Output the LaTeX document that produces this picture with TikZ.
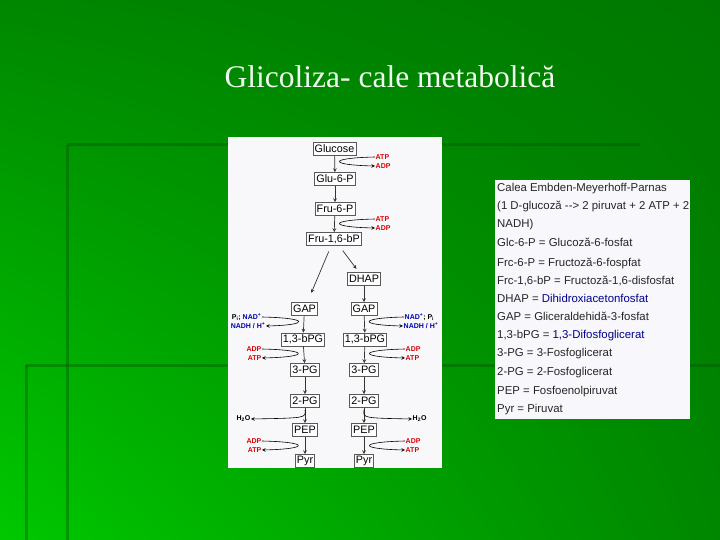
\documentclass[tikz,border=0pt]{standalone}
\usepackage{fontspec}
\setmainfont{Liberation Serif}
\setsansfont{Liberation Sans}
\usetikzlibrary{shadings}
\definecolor{bgul}{RGB}{0,135,0}
\definecolor{bgur}{RGB}{0,120,0}
\definecolor{bgll}{RGB}{0,200,0}
\definecolor{bglr}{RGB}{0,135,0}
\begin{document}
\begin{tikzpicture}[x=1pt,y=-1pt,
  box/.style={draw=gray!70!black,line width=0.8pt,fill=white,font=\sffamily\fontsize{10.8}{11}\selectfont,inner sep=1.6pt,minimum height=13pt},
  flow/.style={->,>=stealth,gray!40!black,line width=0.7pt},
  side/.style={->,>=stealth,black,line width=0.6pt},
  red lbl/.style={font=\sffamily\bfseries\fontsize{7}{7}\selectfont,text=red!85!black,inner sep=0.5pt},
  blue lbl/.style={font=\sffamily\bfseries\fontsize{7}{7}\selectfont,text=blue!70!black,inner sep=0.5pt},
  blk lbl/.style={font=\sffamily\bfseries\fontsize{7}{7}\selectfont,text=black,inner sep=0.5pt},
  deco/.style={draw=green!30!black,line width=3pt,opacity=0.35},
  leg/.style={anchor=base west,font=\sffamily\fontsize{11.4}{12}\selectfont,text=black!85,inner sep=0pt}]
\useasboundingbox (0,0) rectangle (720,540);
\shade[upper left=bgul,upper right=bgur,lower left=bgll,lower right=bglr] (0,0) rectangle (720,540);
\draw[deco] (67,145) -- (640,145);
\draw[deco] (67,145) -- (67,540);
\draw[deco] (26,365) -- (720,365);
\draw[deco] (26,365) -- (26,540);
\node[text={rgb,255:red,240;green,248;blue,240},font=\fontsize{31.5}{34}\selectfont] (title) at (390,77) {Glicoliza- cale metabolică};
\node[fill={rgb,255:red,248;green,248;blue,250},minimum width=214pt,minimum height=331pt,inner sep=0pt] (panel) at (335,302.5) {};
\begin{scope}
\clip (228,137) rectangle (442,468);
\node[box] (glc) at (334.5,148.5) {Glucose};
\node[box] (g6p) at (335,179) {Glu-6-P};
\node[box] (f6p) at (335,209) {Fru-6-P};
\node[box] (f16) at (334,239) {Fru-1,6-bP};
\node[box] (dhap) at (364,279) {DHAP};
\node[box] (gapl) at (304.5,309) {GAP};
\node[box] (gapr) at (364,309) {GAP};
\node[box] (bpgl) at (303,339.5) {1,3-bPG};
\node[box] (bpgr) at (365,339.5) {1,3-bPG};
\node[box] (pg3l) at (305,370) {3-PG};
\node[box] (pg3r) at (364,370) {3-PG};
\node[box] (pg2l) at (305,401) {2-PG};
\node[box] (pg2r) at (364,401) {2-PG};
\node[box] (pepl) at (305,430) {PEP};
\node[box] (pepr) at (364,430) {PEP};
\node[box] (pyrl) at (305,461) {Pyr};
\node[box] (pyrr) at (364,461) {Pyr};
\draw[flow] (glc) -- (g6p);
\draw[flow] (g6p) -- (f6p);
\draw[flow] (f6p) -- (f16);
\draw[flow,shorten <=6pt,shorten >=10pt] (f16) -- (gapl);
\draw[flow,shorten <=6pt,shorten >=4pt] (f16) -- (dhap);
\draw[flow] (dhap) -- (gapr);
\foreach \a/\b in {gapl/bpgl,bpgl/pg3l,pg3l/pg2l,pg2l/pepl,pepl/pyrl,gapr/bpgr,bpgr/pg3r,pg3r/pg2r,pg2r/pepr,pepr/pyrr}
  \draw[flow] (\a) -- (\b);
\node[red lbl,anchor=west] (atp1) at (375,157) {ATP};
\node[red lbl,anchor=west] (adp1) at (375,166) {ADP};
\node[red lbl,anchor=west] (atp2) at (375,219) {ATP};
\node[red lbl,anchor=west] (adp2) at (375,228) {ADP};
\draw[side] (atp1.west) .. controls (328,158) and (328,165) .. (adp1.west);
\draw[side] (atp2.west) .. controls (328,220) and (328,227) .. (adp2.west);
\node[blk lbl,anchor=east] (nadl) at (262,317) {P\textsubscript{i}; \textcolor{blue!70!black}{NAD\textsuperscript{+}}};
\node[blue lbl,anchor=east] (nadhl) at (266,326) {NADH / H\textsuperscript{+}};
\node[red lbl,anchor=east] (adpl1) at (262,349) {ADP};
\node[red lbl,anchor=east] (atpl1) at (262,358) {ATP};
\node[blk lbl,anchor=east] (h2ol) at (251,419) {H\textsubscript{2}O};
\node[red lbl,anchor=east] (adpl2) at (262,441) {ADP};
\node[red lbl,anchor=east] (atpl2) at (262,450) {ATP};
\coordinate (h2olsrc) at (305,410);
\coordinate (h2orsrc) at (364,410);
\draw[side] (nadl.east) .. controls (310,318) and (310,325) .. (nadhl.east);
\draw[side] (adpl1.east) .. controls (310,350) and (310,357) .. (atpl1.east);
\draw[side] (h2olsrc) .. controls (306,418) .. (h2ol.east);
\draw[side] (adpl2.east) .. controls (310,442) and (310,449) .. (atpl2.east);
\node[blk lbl,anchor=west] (nadr) at (404,317) {\textcolor{blue!70!black}{NAD\textsuperscript{+}}; P\textsubscript{i}};
\node[blue lbl,anchor=west] (nadhr) at (403,326) {NADH / H\textsuperscript{+}};
\node[red lbl,anchor=west] (adpr1) at (405,349) {ADP};
\node[red lbl,anchor=west] (atpr1) at (405,358) {ATP};
\node[blk lbl,anchor=west] (h2or) at (412,419) {H\textsubscript{2}O};
\node[red lbl,anchor=west] (adpr2) at (405,441) {ADP};
\node[red lbl,anchor=west] (atpr2) at (405,450) {ATP};
\draw[side] (nadr.west) .. controls (358,318) and (358,325) .. (nadhr.west);
\draw[side] (adpr1.west) .. controls (358,350) and (358,357) .. (atpr1.west);
\draw[side] (h2orsrc) .. controls (363,418) .. (h2or.west);
\draw[side] (adpr2.west) .. controls (358,442) and (358,449) .. (atpr2.west);
\end{scope}
\node[fill={rgb,255:red,248;green,248;blue,252},minimum width=195pt,minimum height=239pt,inner sep=0pt] (legend) at (592.5,299.5) {};
\node[leg] (l1) at (497,192) {Calea Embden-Meyerhoff-Parnas};
\node[leg] (l2) at (497,210) {(1 D-glucoză -{}-> 2 piruvat + 2 ATP + 2};
\node[leg] (l3) at (497,228) {NADH)};
\node[leg] (l4) at (497,246) {Glc-6-P = Glucoză-6-fosfat};
\node[leg] (l5) at (497,266) {Frc-6-P = Fructoză-6-fospfat};
\node[leg] (l6) at (497,284) {Frc-1,6-bP = Fructoză-1,6-disfosfat};
\node[leg] (l7) at (497,302) {DHAP = \textcolor{blue!55!black}{Dihidroxiacetonfosfat}};
\node[leg] (l8) at (497,320) {GAP = Gliceraldehidă-3-fosfat};
\node[leg] (l9) at (497,338) {1,3-bPG = \textcolor{blue!55!black}{1,3-Difosfoglicerat}};
\node[leg] (l10) at (497,356) {3-PG = 3-Fosfoglicerat};
\node[leg] (l11) at (497,375) {2-PG = 2-Fosfoglicerat};
\node[leg] (l12) at (497,394) {PEP = Fosfoenolpiruvat};
\node[leg] (l13) at (497,412) {Pyr = Piruvat};
\end{tikzpicture}
\end{document}
